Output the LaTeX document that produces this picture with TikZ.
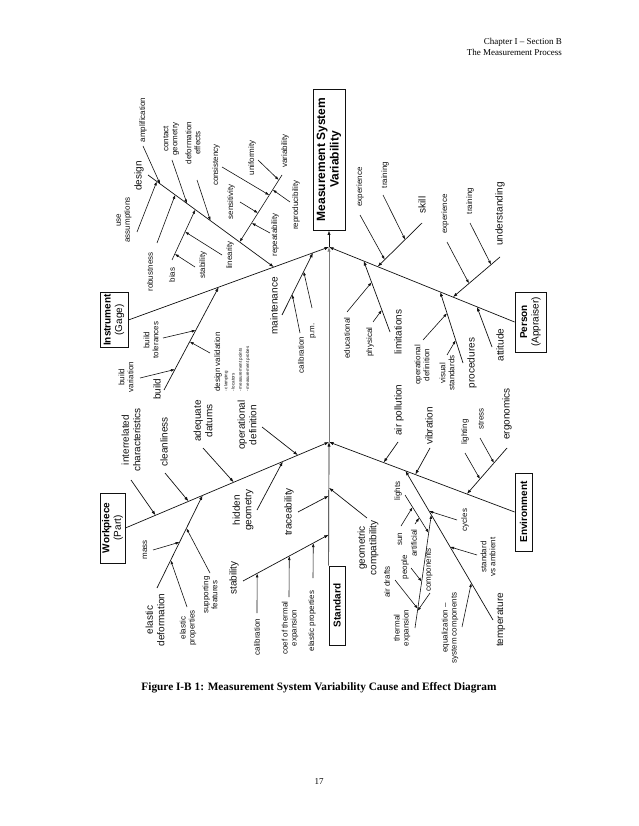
\documentclass[tikz,border=0pt]{standalone}
\usepackage{fontspec}
\setmainfont{Liberation Serif}
\setsansfont{Liberation Sans}
\usetikzlibrary{calc,arrows.meta}
\definecolor{ink}{HTML}{111111}
\definecolor{faint}{HTML}{7A7A7A}

\begin{document}
\begin{tikzpicture}[x=1pt,y=-1pt,
  bigtxt/.style={rotate=90,inner sep=0pt,align=center,text=ink,font=\sffamily\fontsize{10}{11.5}\selectfont},
  smalltxt/.style={rotate=90,inner sep=0pt,align=center,text=ink,font=\sffamily\fontsize{8}{9}\selectfont},
  catbox/.style={rotate=90,draw=ink,line width=0.8pt,inner sep=2pt,align=center,font=\sffamily\fontsize{10}{11.5}\selectfont},
  bone/.style={-{Latex[length=4.5pt,width=3.2pt]},draw=ink,line width=0.7pt},
  twig/.style={-{Latex[length=4pt,width=2.8pt]},draw=ink,line width=0.6pt}]
\fill[white] (0,0) rectangle (638,826);
\useasboundingbox (0,0) rectangle (638,826);

\node[anchor=north east,align=right,inner sep=0pt,font=\fontsize{9}{11}\selectfont] (hdr) at (562,38) {Chapter I -- Section B\\The Measurement Process};
\node[inner sep=0pt,font=\bfseries\fontsize{11.3}{13}\selectfont] (cap) at (319,688) {Figure I-B 1: Measurement System Variability Cause and Effect Diagram};
\node[inner sep=0pt,font=\fontsize{9}{11}\selectfont] (pg) at (319,782) {17};

% effect and category boxes
\node[catbox,minimum width=141pt,minimum height=32pt,font=\sffamily\bfseries\fontsize{12}{13.5}\selectfont] (msv) at (329,159.5) {Measurement System\\Variability};
\node[catbox,minimum width=55pt,minimum height=28pt] (instr) at (114,320) {\textbf{Instrument}\\(Gage)};
\node[catbox,minimum width=60pt,minimum height=31pt] (person) at (530.5,322) {\textbf{Person}\\(Appraiser)};
\node[catbox,minimum width=70pt,minimum height=25pt] (work) at (112.5,528) {\textbf{Workpiece}\\(Part)};
\node[catbox,minimum width=78pt,minimum height=17pt] (env) at (523.5,512) {\textbf{Environment}};
\node[catbox,minimum width=79pt,minimum height=16pt] (std) at (337,605.5) {\textbf{Standard}};

\coordinate (hubI) at (329,247);
\coordinate (hubW) at (329,442);
\coordinate (stdT) at (std.north east);

% spine and main bones
\draw[bone] (stdT) -- (hubW);
\draw[bone,draw=faint] (hubW) -- (hubI);
\draw[bone] (hubI) -- (msv.west);
\draw[bone] (instr.south) -- (hubI);
\draw[bone] (person.north) -- (hubI);
\draw[bone] (work.south) -- (hubW);
\draw[bone] (env.north) -- (hubW);

% instrument
\node[bigtxt] (lDesign) at (139,176) {design};
\node[smalltxt] (lUse) at (124,220) {use\\assumptions};
\node[smalltxt] (lAmp) at (143,120) {amplification};
\node[smalltxt] (lContact) at (171,139) {contact\\geometry};
\node[smalltxt] (lDeform) at (193,143) {deformation\\effects};
\node[smalltxt] (lConsist) at (216,165) {consistency};
\node[smalltxt] (lUnif) at (252,158) {uniformity};
\node[smalltxt] (lVar) at (285,151) {variability};
\node[smalltxt] (lSens) at (231,202) {sensitivity};
\node[smalltxt] (lRepro) at (296,205) {reproducibility};
\node[smalltxt] (lRepeat) at (275,235) {repeatability};
\node[smalltxt] (lRobust) at (150,272) {robustness};
\node[smalltxt] (lBias) at (172,275) {bias};
\node[smalltxt] (lStabI) at (203,265) {stability};
\node[smalltxt] (lLin) at (230,255) {linearity};
\node[smalltxt] (lBuildV) at (126,377) {build\\variation};
\node[smalltxt] (lBuildT) at (151,340) {build\\tolerances};
\node[bigtxt] (lBuild) at (157,389) {build};
\node[rotate=90,anchor=north west,inner sep=0pt,align=left,text=ink,font=\sffamily\fontsize{4.5}{7.3}\selectfont] (lDval) at (214,392)
  {{\fontsize{8}{9}\selectfont design validation}\\- clamping\\- locators\\- measurement points\\- measurement probes};
\node[bigtxt] (lMaint) at (274,306) {maintenance};
\node[smalltxt] (lCalI) at (301,355) {calibration};
\node[smalltxt] (lPm) at (313,331) {p.m.};

\coordinate (dsA) at (148,175);
\coordinate (dsB) at ($(instr.south)!0.725!(hubI)$);
\coordinate (biA) at (172,260);
\coordinate (biB) at ($(dsA)!0.376!(dsB)$);
\coordinate (vaA) at (282,175);
\coordinate (vaB) at ($(dsA)!0.728!(dsB)$);
\coordinate (buA) at (164,390);
\coordinate (buB) at ($(instr.south)!0.45!(hubI)$);
\coordinate (maA) at (282,315);
\coordinate (maB) at ($(instr.south)!0.92!(hubI)$);
\coordinate (tAmp) at (143,146);
\coordinate (tUse) at (137,232);
\coordinate (tContact) at (172,160);
\coordinate (tRobust) at (157,243);
\coordinate (tDeform) at (197,180);
\coordinate (tStabI) at (195,267);
\coordinate (tLin) at (222,255);
\coordinate (tUnif) at (258,160);
\coordinate (tConsist) at (222,167);
\coordinate (tRepro) at (290,202);
\coordinate (tSens) at (240,202);
\coordinate (tRepeat) at (270,233);
\coordinate (tBuildV) at (140,378);
\coordinate (tBuildT) at (163,338);
\coordinate (tDval) at (210,353);
\coordinate (tCalI) at (300,333);
\coordinate (tPm) at (312,308);

\draw[bone] (dsA) -- (dsB);
\draw[twig] (biA) -- (biB);
\draw[twig] (vaA) -- (vaB);
\draw[bone] (buA) -- (buB);
\draw[bone] (maA) -- (maB);
\draw[twig] (tAmp) -- ($(dsA)!0.096!(dsB)$);
\draw[twig] (tUse) -- ($(dsA)!0.07!(dsB)$);
\draw[twig] (tContact) -- ($(dsA)!0.31!(dsB)$);
\draw[twig] (tRobust) -- ($(dsA)!0.216!(dsB)$);
\draw[twig] (tDeform) -- ($(dsA)!0.496!(dsB)$);
\draw[twig] (tStabI) -- ($(biA)!0.12!(biB)$);
\draw[twig] (tLin) -- ($(biA)!0.56!(biB)$);
\draw[twig] (tUnif) -- ($(vaA)!0.075!(vaB)$);
\draw[twig] (tConsist) -- ($(vaA)!0.3!(vaB)$);
\draw[twig] (tRepro) -- ($(vaA)!0.22!(vaB)$);
\draw[twig] (tSens) -- ($(vaA)!0.567!(vaB)$);
\draw[twig] (tRepeat) -- ($(vaA)!0.716!(vaB)$);
\draw[twig] (tBuildV) -- ($(buA)!0.2!(buB)$);
\draw[twig] (tBuildT) -- ($(buA)!0.58!(buB)$);
\draw[twig] (tDval) -- ($(buA)!0.47!(buB)$);
\draw[twig] (tCalI) -- ($(maA)!0.33!(maB)$);
\draw[twig] (tPm) -- ($(maA)!0.7!(maB)$);

% person
\node[smalltxt] (lExpS) at (360,187) {experience};
\node[smalltxt] (lTrnS) at (385,175) {training};
\node[bigtxt] (lSkill) at (422,205) {skill};
\node[smalltxt] (lExpU) at (445,214) {experience};
\node[smalltxt] (lTrnU) at (470,201) {training};
\node[bigtxt] (lUnder) at (500,214) {understanding};
\node[smalltxt] (lEdu) at (347,338) {educational};
\node[smalltxt] (lPhys) at (370,342) {physical};
\node[bigtxt] (lLimit) at (398,332) {limitations};
\node[smalltxt] (lOpP) at (422,365) {operational\\definition};
\node[smalltxt] (lVis) at (447,373) {visual\\standards};
\node[bigtxt] (lProc) at (472,363) {procedures};
\node[bigtxt] (lAtt) at (500,345) {attitude};

\coordinate (skA) at (422,223);
\coordinate (skB) at ($(hubI)!0.262!(person.north)$);
\coordinate (unA) at (500,257);
\coordinate (unB) at ($(hubI)!0.668!(person.north)$);
\coordinate (liA) at (390,332);
\coordinate (liB) at ($(hubI)!0.187!(person.north)$);
\coordinate (prA) at (463,363);
\coordinate (prB) at ($(hubI)!0.599!(person.north)$);
\coordinate (tExpS) at (360,215);
\coordinate (tTrnS) at (383,195);
\coordinate (tExpU) at (447,242);
\coordinate (tTrnU) at (470,223);
\coordinate (tEdu) at (347,312);
\coordinate (tPhys) at (373,322);
\coordinate (tOpP) at (423,340);
\coordinate (tVis) at (447,355);
\coordinate (tAtt) at (492,347);

\draw[bone] (skA) -- (skB);
\draw[bone] (unA) -- (unB);
\draw[bone] (liA) -- (liB);
\draw[bone] (prA) -- (prB);
\draw[bone] (tAtt) -- ($(hubI)!0.797!(person.north)$);
\draw[twig] (tExpS) -- ($(skA)!0.84!(skB)$);
\draw[twig] (tTrnS) -- ($(skA)!0.38!(skB)$);
\draw[twig] (tExpU) -- ($(unA)!0.66!(unB)$);
\draw[twig] (tTrnU) -- ($(unA)!0.19!(unB)$);
\draw[twig] (tEdu) -- ($(liA)!0.70!(liB)$);
\draw[twig] (tPhys) -- ($(liA)!0.31!(liB)$);
\draw[twig] (tOpP) -- ($(prA)!0.70!(prB)$);
\draw[twig] (tVis) -- ($(prA)!0.32!(prB)$);

% workpiece
\node[bigtxt] (lInter) at (131,440) {interrelated\\characteristics};
\node[bigtxt] (lClean) at (164,442) {cleanliness};
\node[bigtxt] (lDatum) at (203,421) {adequate\\datums};
\node[bigtxt] (lOpW) at (247,425) {operational\\definition};
\node[bigtxt] (lHidden) at (243,510) {hidden\\geometry};
\node[bigtxt] (lElDef) at (155,620) {elastic\\deformation};
\node[smalltxt] (lMass) at (145,550) {mass};
\node[smalltxt] (lElPW) at (188,628) {elastic\\properties};
\node[smalltxt] (lSupp) at (210,595) {supporting\\features};

\coordinate (edA) at (157,588);
\coordinate (edB) at ($(work.south)!0.379!(hubW)$);
\coordinate (tInter) at (131,480);
\coordinate (tClean) at (165,473);
\coordinate (tDatum) at (203,448);
\coordinate (tOpW) at (262,427);
\coordinate (tHidden) at (257,510);
\coordinate (tMass) at (153,550);
\coordinate (tElPW) at (187,607);
\coordinate (tSupp) at (210,573);

\draw[bone] (edA) -- (edB);
\draw[bone] (tInter) -- ($(work.south)!0.148!(hubW)$);
\draw[bone] (tClean) -- ($(work.south)!0.31!(hubW)$);
\draw[bone] (tDatum) -- ($(work.south)!0.532!(hubW)$);
\draw[bone] (tOpW) -- ($(work.south)!0.847!(hubW)$);
\draw[bone] (tHidden) -- ($(work.south)!0.773!(hubW)$);
\draw[twig] (tMass) -- ($(edA)!0.495!(edB)$);
\draw[twig] (tElPW) -- ($(edA)!0.30!(edB)$);
\draw[twig] (tSupp) -- ($(edA)!0.645!(edB)$);

% standard
\node[bigtxt] (lTrace) at (289,512) {traceability};
\node[bigtxt] (lGeo) at (368,548) {geometric\\compatibility};
\node[bigtxt] (lStabS) at (234,578) {stability};
\node[smalltxt] (lCalS) at (257,637) {calibration};
\node[smalltxt] (lCoef) at (290,628) {coef of thermal\\expansion};
\node[smalltxt] (lElPS) at (312,621) {elastic properties};

\coordinate (stA) at (243,581);
\coordinate (stB) at ($(stdT)!0.25!(hubW)$);
\coordinate (tTrace) at (298,512);
\coordinate (tGeo) at (367,518);
\coordinate (tCalS) at (257,613);
\coordinate (tCoef) at (289,597);
\coordinate (tElPS) at (313,578);

\draw[bone] (stA) -- (stB);
\draw[bone] (tTrace) -- ($(stdT)!0.565!(hubW)$);
\draw[bone] (tGeo) -- ($(stdT)!0.63!(hubW)$);
\draw[twig] (tCalS) -- ($(stA)!0.165!(stB)$);
\draw[twig] (tCoef) -- ($(stA)!0.54!(stB)$);
\draw[twig] (tElPS) -- ($(stA)!0.82!(stB)$);

% environment
\node[bigtxt] (lAir) at (399,410) {air pollution};
\node[bigtxt] (lVib) at (429,426) {vibration};
\node[bigtxt] (lErgo) at (507,414) {ergonomics};
\node[smalltxt] (lLight) at (465,432) {lighting};
\node[smalltxt] (lStress) at (481,419) {stress};
\node[bigtxt] (lTemp) at (501,620) {temperature};
\node[smalltxt] (lCycle) at (465,520) {cycles};
\node[smalltxt] (lStdAmb) at (488,557) {standard\\vs ambient};
\node[smalltxt] (lEqual) at (450,628) {equalization --\\system components};
\node[smalltxt] (lTherm) at (402,628) {thermal\\expansion};
\node[smalltxt] (lComp) at (429,570) {components};
\node[smalltxt] (lDraft) at (387,582) {air drafts};
\node[smalltxt] (lPeople) at (405,567) {people};
\node[smalltxt] (lLights) at (398,491) {lights};
\node[smalltxt] (lSun) at (400,539) {sun};
\node[smalltxt] (lArt) at (414,543) {artificial};

\coordinate (erA) at (507,448);
\coordinate (erB) at ($(env.north)!0.257!(hubW)$);
\coordinate (teA) at (493,620);
\coordinate (teB) at ($(env.north)!0.588!(hubW)$);
\coordinate (thA) at (415,628);
\coordinate (thB) at ($(teA)!0.705!(teB)$);
\coordinate (lgA) at (405,495);
\coordinate (lgB) at ($(thA)!0.84!(thB)$);
\coordinate (tAir) at (398,442);
\coordinate (tVib) at (430,448);
\coordinate (tLight) at (465,453);
\coordinate (tStress) at (480,438);
\coordinate (tCycle) at (457,520);
\coordinate (tStdAmb) at (477,555);
\coordinate (tEqual) at (462,627);
\coordinate (tComp) at (430,593);
\coordinate (tDraft) at (395,580);
\coordinate (tPeople) at (411,568);
\coordinate (tSun) at (401,526);
\coordinate (tArt) at (415,524);

\draw[bone] (tAir) -- ($(env.north)!0.706!(hubW)$);
\draw[bone] (tVib) -- ($(env.north)!0.535!(hubW)$);
\draw[bone] (erA) -- (erB);
\draw[bone] (teA) -- (teB);
\draw[twig] (thA) -- (thB);
\draw[twig] (lgA) -- (lgB);
\draw[twig] (tLight) -- ($(erA)!0.675!(erB)$);
\draw[twig] (tStress) -- ($(erA)!0.325!(erB)$);
\draw[twig] (tCycle) -- ($(teA)!0.73!(teB)$);
\draw[twig] (tStdAmb) -- ($(teA)!0.49!(teB)$);
\draw[twig] (tEqual) -- ($(teA)!0.248!(teB)$);
\draw[twig] (tComp) -- ($(thA)!0.15!(thB)$);
\draw[twig] (tDraft) -- ($(thA)!0.17!(thB)$);
\draw[twig] (tPeople) -- ($(thA)!0.41!(thB)$);
\draw[twig] (tSun) -- ($(lgA)!0.32!(lgB)$);
\draw[twig] (tArt) -- ($(lgA)!0.6!(lgB)$);
\end{tikzpicture}
\end{document}
